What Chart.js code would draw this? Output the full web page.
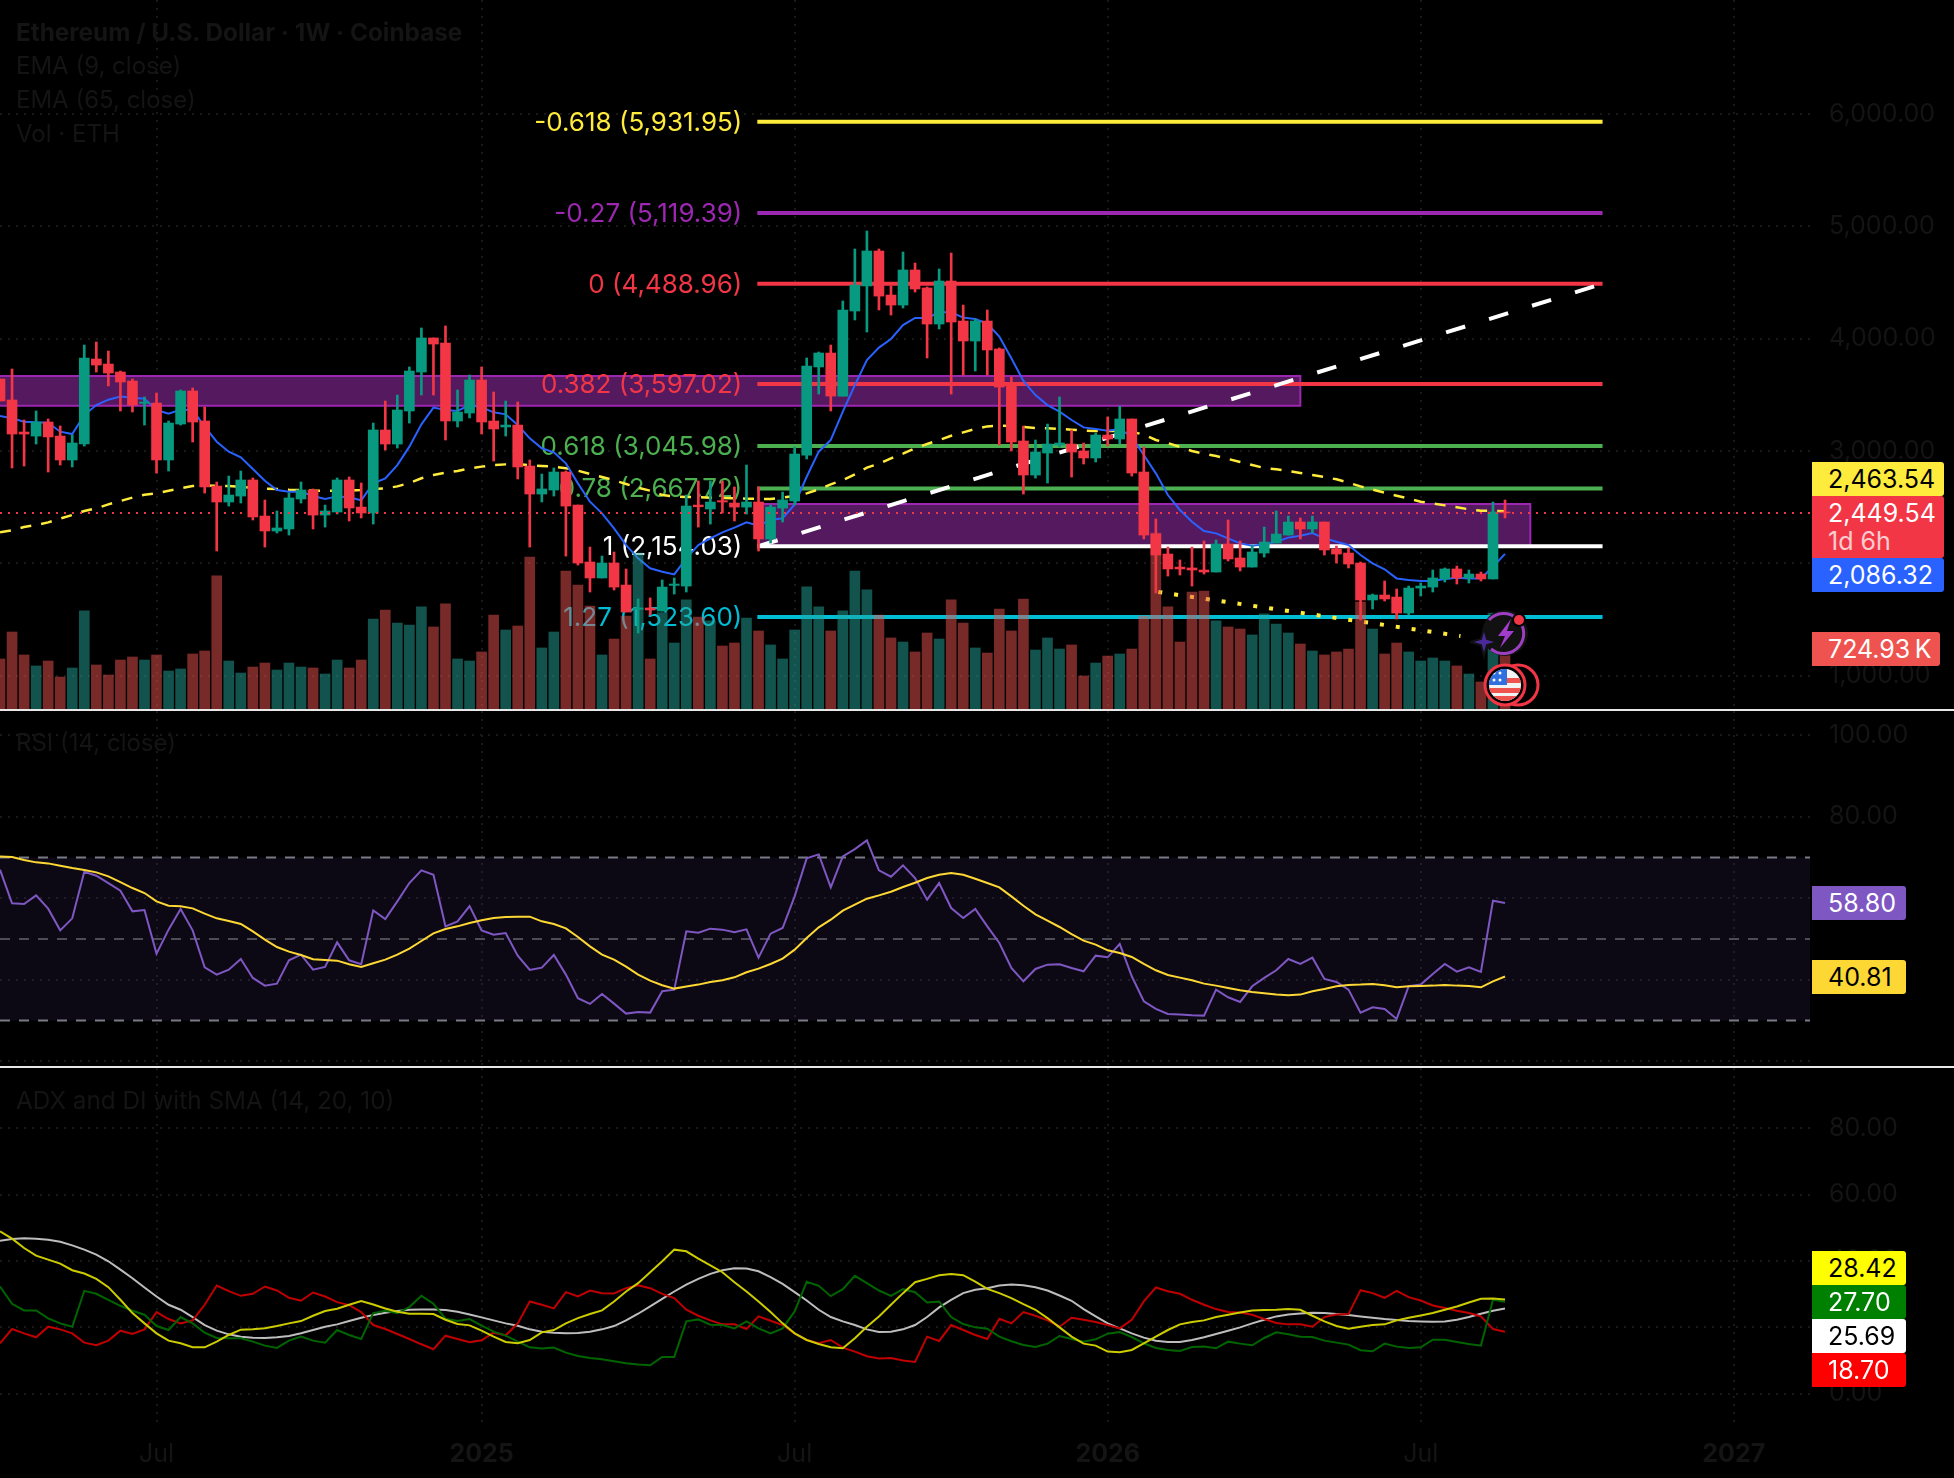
<!DOCTYPE html>
<html>
<head>
<meta charset="utf-8">
<title>ETHUSD 1W</title>
<script src="https://cdn.jsdelivr.net/npm/chart.js@4"></script>
<style>
	html, body { margin: 0; padding: 0; background: #000; width: 1954px; height: 1478px; overflow: hidden; font-family: Inter, sans-serif; }
	canvas { position: absolute; left: 0; }
	#price { top: 0; }
	#rsi { top: 711px; }
	#adx { top: 1068px; }
	.sep { position: absolute; left: 0; width: 1954px; height: 2px; background: #e8e8e8; }
	.legend { position: absolute; left: 16px; color: #141414; font-size: 24px; line-height: 34px; white-space: nowrap; }
	.tag { position: absolute; left: 1812px; width: 132px; height: 34px; line-height: 34px; padding-left: 16px; box-sizing: border-box; font-size: 25px; color: #fff; border-radius: 0 3px 3px 0; white-space: nowrap; }
	.short { width: 94px; }
	svg { position: absolute; left: 1470px; top: 600px; }
</style>
</head>
<body>
<canvas id="price" width="1954" height="709"></canvas>
<canvas id="rsi" width="1954" height="355"></canvas>
<canvas id="adx" width="1954" height="410"></canvas>
<div class="sep" style="top:709px"></div>
<div class="sep" style="top:1066px"></div>

<div class="legend" style="top:15px;font-weight:700;font-size:24.3px">Ethereum / U.S. Dollar · 1W · Coinbase</div>
<div class="legend" style="top:49px">EMA (9, close)</div>
<div class="legend" style="top:83px">EMA (65, close)</div>
<div class="legend" style="top:117px">Vol · ETH</div>
<div class="legend" style="top:726px">RSI (14, close)</div>
<div class="legend" style="top:1083px;font-size:24.3px">ADX and DI with SMA (14, 20, 10)</div>

<div class="tag" style="top:462px;background:#ffeb3b;color:#000">2,463.54</div>
<div class="tag" style="top:496px;height:62px;background:#f23645">2,449.54<br><span style="opacity:.75;position:relative;top:-6px">1d 6h</span></div>
<div class="tag" style="top:558px;background:#2962ff">2,086.32</div>
<div class="tag" style="top:632px;width:128px;background:#ef5350">724.93&thinsp;K</div>
<div class="tag short" style="top:886px;background:#7e57c2">58.80</div>
<div class="tag short" style="top:960px;background:#fdd835;color:#000">40.81</div>
<div class="tag short" style="top:1251px;background:#ffff00;color:#000">28.42</div>
<div class="tag short" style="top:1285px;background:#008000">27.70</div>
<div class="tag short" style="top:1319px;background:#fff;color:#000">25.69</div>
<div class="tag short" style="top:1353px;background:#ff0000">18.70</div>

<svg width="80" height="110" viewBox="0 0 80 110">
	<circle cx="35" cy="33" r="23" fill="#111"/>
	<path d="M19 20 A20 20 0 1 1 21 49" fill="none" stroke="#9c3fc0" stroke-width="3"/>
	<path d="M41 19 L28 36 L35 36 L30 48 L44 31 L37 31 Z" fill="#a23ccc"/>
	<circle cx="49" cy="20" r="7" fill="#000"/><circle cx="49" cy="20" r="5" fill="#f23645"/>
	<path d="M14 28 L17 39 L28 42 L17 45 L14 56 L11 45 L0 42 L11 39 Z" fill="#4a2a9a" stroke="#111" stroke-width="2"/>
	<circle cx="48" cy="85" r="20" fill="#000" stroke="#f23645" stroke-width="3"/>
	<circle cx="35" cy="85" r="21" fill="#000"/>
	<circle cx="35" cy="85" r="20" fill="none" stroke="#f23645" stroke-width="3"/>
	<clipPath id="flag"><circle cx="35" cy="85" r="16"/></clipPath>
	<g clip-path="url(#flag)">
		<rect x="19" y="69" width="32" height="32" fill="#f3f3f3"/>
		<rect x="19" y="78" width="32" height="5" fill="#ef5350"/>
		<rect x="19" y="88" width="32" height="5" fill="#ef5350"/>
		<rect x="19" y="96" width="32" height="6" fill="#ef5350"/>
		<rect x="19" y="69" width="18" height="16" fill="#2f6fe0"/>
		<g fill="#fff"><circle cx="24" cy="73" r="1.5"/><circle cx="30" cy="73" r="1.5"/><circle cx="24" cy="80" r="1.5"/><circle cx="30" cy="80" r="1.5"/></g>
	</g>
</svg>

<script>
// weekly candles, oldest first
var opens = [3642,3455,3170,3134,3259,3134,2921,3063,3820,3775,3704,3624,3425,3428,2921,3241,3535,3268,2689,2547,
	2600,2743,2422,2289,2307,2574,2654,2431,2458,2743,2502,2449,3188,3063,3357,3704,4007,3962,3268,3339,
	3633,3268,3215,3232,2867,2618,2654,2814,2520,2013,1871,2004,1808,1592,1604,1577,1805,1799,2520,2485,
	2559,2538,2502,2547,2218,2493,2556,2965,3749,3873,3490,4247,4470,4781,4389,4300,4612,4452,4131,4514,
	4158,3980,4158,3909,3606,3090,2787,2983,3054,3063,3001,2939,3143,3108,3286,2814,2262,2084,1968,1960,
	1942,1924,2173,2049,1968,2093,2182,2253,2369,2307,2369,2129,2093,2004,1675,1719,1701,1559,1781,1790,
	1862,1951,1871,1906,1862,2458];
var highs = [3642,3731,3277,3357,3286,3224,3143,3944,3971,3891,3713,3642,3482,3517,3268,3544,3562,3393,2725,2778,
	2823,2761,2565,2467,2627,2725,2663,2520,2761,2770,2716,3250,3446,3499,3749,4096,4007,4114,3544,3677,
	3749,3526,3446,3437,2921,2796,2850,2823,2520,2146,2066,2102,1951,1684,1693,1853,1871,2609,2734,2734,
	2734,2681,2876,2681,2520,2636,3036,3829,3882,3944,4336,4799,4959,4799,4470,4772,4674,4461,4621,4763,
	4300,4176,4256,3918,3660,3223,3099,3241,3482,3188,3072,3161,3304,3401,3286,3036,2396,2146,2031,2146,
	2200,2209,2387,2200,2164,2324,2467,2422,2405,2422,2369,2155,2138,2013,1728,1844,1773,1799,1826,1942,
	1960,1977,1942,1924,2547,2565];
var lows = [3446,2850,2867,3063,2814,2876,2859,3045,3704,3580,3357,3348,3232,2805,2823,3232,3081,2627,2111,2511,
	2538,2387,2146,2271,2253,2538,2307,2324,2440,2378,2405,2351,3010,3028,3250,3499,3499,3099,3215,3295,
	3152,2912,3134,2752,2146,2547,2600,2066,1986,1746,1871,1764,1568,1381,1541,1577,1728,1746,2324,2351,
	2449,2378,2440,2111,2182,2369,2520,2930,3508,3357,3490,4167,4060,4256,4211,4274,4416,3829,4087,3508,
	3677,3713,3677,3054,3001,2618,2760,2716,3036,2769,2885,2903,3045,3063,2778,2218,1737,1888,1897,1799,
	1906,1924,2022,1933,1968,2057,2182,2253,2218,2271,2075,2004,1960,1497,1595,1666,1506,1541,1710,1746,
	1835,1817,1826,1844,1862,2405];
var closes = [3446,3152,3152,3259,3126,2921,3072,3829,3766,3695,3615,3410,3437,2921,3250,3535,3259,2681,2547,2609,
	2743,2414,2289,2316,2583,2654,2431,2467,2743,2494,2449,3188,3063,3366,3713,4007,3953,3268,3348,3633,
	3259,3197,3232,2859,2618,2663,2814,2511,2004,1871,2004,1790,1568,1604,1586,1790,1817,2511,2505,2547,
	2547,2502,2547,2218,2502,2565,2974,3757,3873,3490,4256,4478,4781,4380,4300,4612,4443,4131,4514,4149,
	3980,4158,3900,3570,3081,2787,2992,3063,3072,2992,2939,3143,3108,3286,2805,2253,2075,1951,1951,1942,
	1924,2173,2040,1968,2102,2191,2262,2369,2307,2369,2120,2084,1995,1675,1719,1684,1559,1781,1799,1871,
	1951,1871,1906,1862,2458,2450];
// volume in thousands of ETH
var volumes = [615,946,664,529,590,393,504,1205,541,418,602,639,602,664,467,492,676,713,1635,590,
	442,516,565,479,565,516,504,430,602,504,602,1106,1217,1057,1032,1254,1008,1291,615,590,
	701,1155,971,1020,1868,750,946,1696,1524,1266,664,860,1143,1917,615,1184,811,1340,1131,1082,
	774,811,1118,959,787,615,971,1500,1254,959,1205,1696,1463,1155,873,823,701,934,860,1340,
	1057,750,688,1229,959,1352,725,873,737,787,406,565,651,676,737,1143,2163,1254,823,1438,
	1450,1082,1008,983,910,1168,1045,934,799,713,664,701,737,1315,983,676,811,701,590,627,
	590,529,430,332,1180,725];
var ema9 = [3313,3292,3262,3256,3253,3173,3152,3321,3410,3458,3485,3476,3467,3366,3333,3369,3366,3218,3084,2995,
	2945,2841,2737,2654,2639,2639,2600,2574,2597,2589,2562,2713,2758,2876,3040,3238,3387,3366,3357,3410,
	3390,3345,3327,3232,3114,3025,2989,2891,2713,2550,2446,2313,2164,2046,1957,1927,1903,2046,2164,2224,
	2277,2319,2366,2336,2387,2402,2526,2772,2995,3099,3351,3588,3811,3921,3998,4122,4185,4185,4235,4235,
	4188,4176,4134,4019,3826,3624,3499,3410,3351,3277,3211,3197,3182,3197,3128,2965,2802,2609,2476,2372,
	2289,2268,2224,2179,2158,2170,2194,2230,2247,2271,2224,2194,2164,2075,2001,1948,1867,1853,1844,1844,
	1862,1873,1867,1867,1971,2086];
var ema65 = [2277,2295,2325,2342,2366,2399,2431,2467,2491,2526,2556,2586,2612,2624,2648,2669,2689,2695,2692,2689,
	2683,2675,2666,2663,2657,2654,2648,2648,2648,2648,2654,2663,2669,2686,2716,2758,2787,2808,2823,2847,
	2862,2876,2882,2885,2873,2867,2862,2847,2826,2796,2770,2740,2707,2675,2648,2609,2597,2592,2589,2586,
	2583,2580,2577,2574,2574,2586,2600,2624,2660,2704,2743,2793,2853,2888,2936,2977,3025,3063,3099,3137,
	3167,3197,3220,3226,3223,3214,3206,3203,3197,3191,3182,3179,3179,3179,3173,3146,3099,3072,3037,3001,
	2977,2956,2930,2903,2876,2850,2838,2823,2805,2787,2770,2749,2719,2686,2657,2630,2603,2577,2550,2535,
	2517,2500,2482,2470,2467,2464];
var rsi = [66.98,58.73,58.57,60.69,57.43,52.12,55.06,66.49,65.51,63.71,61.84,56.78,57.1,46.41,52.29,57.35,52.12,43.06,41.27,42.49,
	45.1,40.45,38.57,39.06,44.78,46.16,42.49,43.14,49.18,44.78,43.8,57.02,54.9,59.22,63.71,66.82,65.76,53.1,54.33,58.08,
	52.12,51.06,51.47,45.92,42.41,42.98,46.08,41.27,35.47,34.08,36.53,34.16,31.71,32.12,31.96,37.18,37.59,51.88,51.55,52.53,
	52.29,51.63,52.37,45.43,51.31,52.69,60.45,69.76,70.73,62.65,70.24,72.04,74.16,66.82,65.27,68.04,64.94,59.63,63.71,57.59,
	55.14,57.35,53.1,49.02,42.9,39.63,42.65,43.71,43.8,42.9,42.08,45.92,45.51,48.78,40.86,34.73,32.86,31.63,31.47,31.31,
	31.22,37.59,35.71,34.57,38.41,40.45,42.33,45.1,43.88,45.43,40.2,39.47,37.59,31.96,33.27,32.86,30.41,38.41,38.82,41.43,
	43.88,42,43.06,41.92,59.39,58.8];
var rsiMa = [70.24,70.08,69.35,68.78,68.53,67.96,67.39,66.9,66.33,65.35,63.96,62.49,61.27,59.22,58.16,58,57.51,56.2,55.06,54.41,
	53.67,51.88,49.84,48.04,46.9,46.08,45.02,44.86,44.69,43.8,43.14,44.04,44.94,46.16,47.63,49.51,51.39,52.45,53.1,53.92,
	54.57,55.14,55.39,55.47,55.47,54.33,53.67,52.61,50.49,48.2,46.16,44.94,43.22,41.27,39.8,38.65,37.84,38.33,38.82,39.47,
	39.88,40.61,41.84,42.73,43.88,45.18,47.39,50.24,52.86,54.73,56.94,58.41,59.88,60.69,61.59,62.73,63.8,64.94,65.76,66.16,
	65.76,64.78,63.71,62.65,60.45,58.16,56.04,54.49,52.94,51.22,49.59,48.61,47.22,46.57,45.59,43.88,42.33,41.18,40.53,39.88,
	39.06,38.57,38,37.43,37.02,36.69,36.37,36.2,36.37,37.18,37.76,38.41,38.73,38.82,38.98,38.65,38.16,38.41,38.49,38.57,
	38.73,38.57,38.49,38.16,39.63,40.81];
var diMinus = [15.2,19.5,18.2,17,20.2,19.4,18.2,15.4,14.6,16,19,18,19.4,24.6,22.5,21.2,22.1,26.8,32.6,30.9,
	29.5,30.1,32.3,31.1,28.9,28,30.5,29.3,27.6,26.7,24.6,20.7,19.5,18,16.5,14.9,13.4,17.5,16.5,15.5,
	16.1,18.4,17.6,21.2,27.8,26.8,25.7,30.6,29.3,31.1,30.3,30.2,31.8,32.7,31.8,30.1,28.8,25.3,23.5,22.1,
	20.9,20.9,19.5,23.3,22,20.7,18.2,16.2,15.2,16.2,13.9,12.7,11.3,10.6,10.8,10,9.6,17.2,15.9,20.7,
	19.2,17.7,16.5,22.6,21.2,24.6,23.5,22.1,20.2,22.9,22.3,21.6,20.7,19.7,22.3,27.8,32,30.9,30.1,28.3,
	26.8,25.5,24.6,24.5,23.8,22.5,21.3,20.9,20.9,20.2,23.1,23.9,24,31.2,30.3,28.9,31,29.1,28.1,26.6,
	25.8,25,24.3,23.3,19.5,18.7];
var diPlus = [32.3,27.1,25.1,25.1,22.7,21.2,20.2,31,30.1,28.3,26.5,25,23.8,20.4,19.2,23.1,21.2,18.4,16.8,16.7,
	16.7,15.7,14.5,13.8,16,17.2,16,15.4,19.2,17.7,16.5,24.3,25,24.3,26.1,29.5,27.1,22.6,21.9,22.5,
	20.5,18.7,17.5,15.7,14,13.6,13.9,12.4,11.4,10.8,10.4,9.8,9.2,8.8,8.6,11.1,11.1,21.8,22.4,20.8,
	20.7,19.7,21.8,19.7,18.2,19.7,24.8,33.7,32.5,29.4,31.5,35.5,33.3,31.1,29.5,31.5,30.6,27.5,27.8,23.1,
	21,20,19.6,17.2,15.8,14.7,14.1,15.1,17.4,16.5,15.7,16.4,18.1,18.6,17.1,15.2,13.8,13.2,12.9,14.1,
	14.2,13.7,15.7,15.1,14.6,16.8,18.5,17.9,17.2,17.1,16,15.4,14.8,13.1,12.8,15.1,14.2,13.8,14,16.3,
	16.3,15.6,15,14.5,28.3,27.7];
var adxLine = [48.9,46.7,43.9,41.6,40.4,39.2,37.2,36.2,34.6,32.1,28.3,24.3,21.2,18.2,16,15.2,14,14,15.7,17.7,
	19.3,19.4,19.7,20.4,21.2,21.9,23.5,24.9,25.6,26.8,27.9,26.9,25.7,24.7,24.1,24.1,24,22.3,21,20.6,
	19,17.2,15.6,15.2,16.2,18.5,19.2,21.2,22.8,24,25.1,27.8,30.8,33.3,36.6,39.9,43.4,42.9,40.7,38.7,
	36.6,33.6,30.8,27.8,24.6,21.2,18.2,16.2,15,14,13.7,16.7,20.2,23.3,26.8,30.3,33.6,34.6,35.7,36.1,
	35.7,33.8,31.6,30.3,28.8,27,25.3,22.8,20,17.2,15.1,14.5,12.7,12.5,13.2,15.2,17.2,19.2,20.9,21.6,
	22.1,23.1,23.8,24.5,25.1,25.2,25.3,25.5,25.3,23.5,21.8,20.4,19.6,20.2,20.7,20.9,22.1,22.9,23.6,24.3,
	25.3,26.3,27.5,28.6,28.7,28.42];
var adxSma = [46.1,46.6,46.8,46.7,46.4,45.8,44.7,43.4,41.9,39.9,37.4,34.8,32,29.3,26.8,25.3,23.1,20.7,19,17.9,
	17.2,16.9,16.8,17,17.4,18.2,19.2,20.2,20.9,21.9,22.9,23.7,24.4,24.9,25.3,25.4,25.4,25.2,24.7,23.9,
	23,22.1,21.2,20.5,19.4,18.7,18.4,18.2,18.3,18.7,19.4,20.4,22.1,24.1,26.3,28.6,30.8,32.9,34.6,36.1,
	37.2,37.8,37.7,36.9,35.1,33.1,30.6,28.1,25.3,23.1,21.8,20.7,19.4,18.6,18.7,19.4,20.7,23.1,26,28.3,
	30.3,31.3,31.8,32.6,32.9,32.7,32.1,31.1,29.6,28,25.5,23.3,21.2,19.7,18.2,16.9,16,15.6,15.6,16.2,
	17,18,19,20,21.2,22.3,23.3,23.9,24.2,24.4,24.3,24,23.7,23.3,22.9,22.5,22.2,21.9,21.8,21.7,
	21.8,22.3,23.1,24.1,25,25.69];

// fib retracement drawing
var fibLevels = ['-0.618','-0.27','0','0.382','0.618','0.78','1','1.27'];
var fibPrices = [5931.95,5119.39,4488.96,3597.02,3045.98,2667.72,2154.03,1523.60];
var fibColors = ['#ffeb3b','#9c27b0','#f23645','#f23645','#4caf50','#4caf50','#ffffff','#00bcd4'];
var fibStart = 62.9, fibEnd = 133.1;

// axis ticks
var priceTicks = [1000,2000,3000,4000,5000,6000];
var rsiTicks = [20,40,60,80,100];
var adxTicks = [0,20,40,60,80];
var timeTicks = [13,40,66,92,118,144];
var timeLabels = ['Jul','2025','Jul','2026','Jul','2027'];

var lastPrice = 2449.54;
var xMax = 150.33;
var idx = opens.map(function(o, i){ return i; });
var up = '#089981', down = '#f23645';

function series(arr){ return arr.map(function(v, i){ return {x:i, y:v}; }); }
function span(y, a, b){ return [{x:a, y:y}, {x:b, y:y}]; }
function fmt(v){ return v.toLocaleString('en-US', {minimumFractionDigits:2, maximumFractionDigits:2}); }
function line(label, data, color, width, order, extra){
	return Object.assign({type:'line', label:label, data:data, borderColor:color, borderWidth:width, order:order,
		pointRadius:0, tension:0, fill:false, yAxisID:'y'}, extra || {});
}

var xAxis = function(height, showLabels){
	return {
		type:'linear', min:0, max:xMax, offset:false,
		afterBuildTicks: function(s){ s.ticks = timeTicks.map(function(v){ return {value:v}; }); },
		afterFit: function(s){ s.height = height; s.paddingLeft = 0; s.paddingRight = 0; },
		grid:{color:'#181818', lineWidth:2, drawTicks:false, offset:false},
		border:{display:false, dash:[2,6]},
		ticks:{display:showLabels, autoSkip:false, maxRotation:0, padding:16, color:'#141414',
			font:function(c){ var t = timeLabels[timeTicks.indexOf(c.tick ? c.tick.value : -1)] || ''; return {family:'Inter', size:25, weight:t === 'Jul' ? 400 : 700}; },
			callback:function(v){ return timeLabels[timeTicks.indexOf(v)]; }}
	};
};
var yAxis = function(min, max, vals, hide){
	return {
		position:'right', min:min, max:max,
		afterBuildTicks: function(s){ s.ticks = vals.map(function(v){ return {value:v}; }); },
		afterFit: function(s){ s.width = 144; s.paddingTop = 0; s.paddingBottom = 0; },
		grid:{color:'#181818', lineWidth:2, drawTicks:false},
		border:{display:false, dash:[2,6]},
		ticks:{padding:19, color:'#141414', font:{family:'Inter', size:25},
			callback:function(v){ return hide && hide.indexOf(v) >= 0 ? '' : fmt(v); }}
	};
};
var base = {
	responsive:false, animation:false, events:[],
	layout:{padding:0},
	plugins:{legend:{display:false}, tooltip:{enabled:false}}
};

// fib text sits above the zones and lines but under volume and candles
var fibText = {
	id:'fibText',
	afterDatasetDraw:function(chart, args){
		if (chart.data.datasets[args.index].label !== 'fib 1.27') return;
		var c = chart.ctx, sx = chart.scales.x, sy = chart.scales.y;
		c.save();
		c.font = '26px Inter';
		c.textAlign = 'right';
		c.textBaseline = 'middle';
		fibLevels.forEach(function(l, i){
			c.fillStyle = fibColors[i];
			c.fillText(l + ' (' + fmt(fibPrices[i]) + ')', sx.getPixelForValue(fibStart) - 15, sy.getPixelForValue(fibPrices[i]) + 1);
		});
		c.restore();
	}
};

var priceSets = [
	line('zone 1', span(3668,-3,108), 'rgba(0,0,0,0)', 0, 40, {fill:{value:3404}, backgroundColor:'#55195f'}),
	line('zone 1 edge', [{x:-3,y:3404},{x:-3,y:3668},{x:108,y:3668},{x:108,y:3404},{x:-3,y:3404}], '#9c27b0', 2, 39),
	line('zone 2', span(2529,63,127.1), 'rgba(0,0,0,0)', 0, 38, {fill:{value:2154}, backgroundColor:'#55195f'}),
	line('zone 2 edge', [{x:63,y:2154},{x:63,y:2529},{x:127.1,y:2529},{x:127.1,y:2154},{x:63,y:2154}], '#9c27b0', 2, 37)
];
fibLevels.forEach(function(l, i){
	priceSets.push(line('fib ' + l, span(fibPrices[i],fibStart,fibEnd), fibColors[i], 4, 30 - i));
});
priceSets.push(
	line('trend', [{x:63,y:2154},{x:133.1,y:4489}], '#ffffff', 4, 20, {borderDash:[20,25]}),
	line('dots', [{x:96.2,y:1746},{x:121.3,y:1354}], '#ffeb3b', 4, 19, {borderDash:[4,12]}),
	line('EMA 65', series(ema65), '#ffeb3b', 2.5, 18, {borderDash:[11,10]}),
	line('EMA 9', series(ema9), '#2962ff', 2, 17),
	{type:'bar', label:'Vol', yAxisID:'vol', order:10, grouped:false, barThickness:10,
		data:series(volumes),
		backgroundColor:idx.map(function(i){ return closes[i] >= opens[i] ? 'rgba(38,166,154,.5)' : 'rgba(239,83,80,.5)'; })},
	{type:'bar', label:'wicks', yAxisID:'y', order:3, grouped:false, barThickness:2,
		data:idx.map(function(i){ return {x:i, y:[lows[i], highs[i]]}; }),
		backgroundColor:idx.map(function(i){ return closes[i] >= opens[i] ? up : down; })},
	{type:'bar', label:'bodies', yAxisID:'y', order:2, grouped:false, barThickness:10,
		data:idx.map(function(i){ return {x:i, y:[opens[i], closes[i]]}; }),
		backgroundColor:idx.map(function(i){ return closes[i] >= opens[i] ? up : down; })},
	line('last', span(lastPrice,0,xMax), '#f23645', 2, 1, {borderDash:[2,6]})
);

new Chart(document.getElementById('price'), {
	type:'bar',
	data:{datasets:priceSets},
	options:Object.assign({}, base, {scales:{
		x:xAxis(0, false),
		y:yAxis(704.8, 7015, priceTicks),
		vol:{display:false, min:0, max:8712, grid:{display:false}}
	}}),
	plugins:[fibText]
});

new Chart(document.getElementById('rsi'), {
	type:'line',
	data:{datasets:[
		line('band', span(70,0,xMax), 'rgba(0,0,0,0)', 0, 9, {fill:{value:30}, backgroundColor:'rgba(126,87,194,.1)'}),
		line('70', span(70,0,xMax), '#787b86', 2, 8, {borderDash:[10,9]}),
		line('50', span(50,0,xMax), '#4d4d55', 2, 7, {borderDash:[10,9]}),
		line('30', span(30,0,xMax), '#787b86', 2, 6, {borderDash:[10,9]}),
		line('RSI', series(rsi), '#7e57c2', 2, 2),
		line('RSI MA', series(rsiMa), '#fdd835', 2, 1)
	]},
	options:Object.assign({}, base, {scales:{
		x:xAxis(0, false),
		y:yAxis(18.87, 105.88, rsiTicks, [20])
	}})
});

new Chart(document.getElementById('adx'), {
	type:'line',
	data:{datasets:[
		line('ADX SMA', series(adxSma), '#bdbdbd', 2, 4),
		line('-DI', series(diMinus), '#c00000', 2, 3),
		line('+DI', series(diPlus), '#006400', 2, 2),
		line('ADX', series(adxLine), '#cccc00', 2, 1)
	]},
	options:Object.assign({}, base, {scales:{
		x:xAxis(55, true),
		y:yAxis(-8.8, 98.1, adxTicks)
	}})
});
</script>
</body>
</html>
